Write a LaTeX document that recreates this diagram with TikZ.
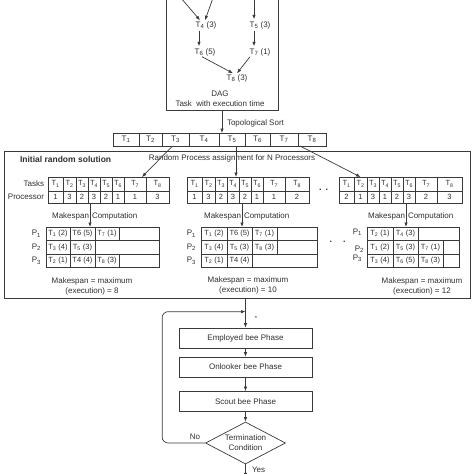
\documentclass[tikz,border=0pt]{standalone}
\usepackage{fontspec}
\setmainfont{Liberation Sans}
\usetikzlibrary{arrows.meta,shapes.geometric,calc}
\definecolor{ln}{HTML}{3A3A3A}
\definecolor{tx}{HTML}{303030}
\newcommand\asgtab[3]{%
  \foreach \a/\b/\v [count=\i] in {#3}{
    \node[cell, minimum width={(\b-\a)*1pt}, minimum height=14pt] (#2t\i) at ({#1+(\a+\b)/2},184) {T\textsubscript{\i}};
    \node[cell, minimum width={(\b-\a)*1pt}, minimum height=12pt] (#2p\i) at ({#1+(\a+\b)/2},197) {\v};
  }}
\newcommand\pc[5]{\node[cell, minimum width={(#3-#2)*1pt}, minimum height=13.5pt] (#1) at ({(#2+#3)/2},#4) {#5};}
\begin{document}
\begin{tikzpicture}[x=1pt,y=-1pt,
  font=\fontsize{8}{10}\selectfont, text=tx,
  arr/.style={draw=ln, line width=0.7pt, -{Latex[length=4.5pt,width=3.5pt]}},
  cell/.style={draw=ln, line width=0.6pt, inner sep=0pt, outer sep=0pt, font=\fontsize{7.5}{9}\selectfont},
  box/.style={draw=ln, line width=0.7pt, minimum width=133pt, minimum height=20pt, inner sep=0pt},
  lbl/.style={inner sep=0pt, outer sep=0pt}
]
\useasboundingbox (0,0) rectangle (474,474);
\clip (0,0) rectangle (474,474);
\fill[white] (0,0) rectangle (474,474);

% ---------- DAG ----------
\node[draw=ln, line width=0.8pt, minimum width=112pt, minimum height=120pt, inner sep=0pt] (dag) at (222,50) {};
\node[lbl] (t4) at (206,25) {T\textsubscript{4} (3)};
\node[lbl] (t5) at (260,25) {T\textsubscript{5} (3)};
\node[lbl] (t6) at (205,52) {T\textsubscript{6} (5)};
\node[lbl] (t7) at (260,52) {T\textsubscript{7} (1)};
\node[lbl] (t8) at (237,78) {T\textsubscript{8} (3)};
\node[lbl] (dagl) at (220,94) {DAG};
\node[lbl] (dagt) at (220,103.5) {Task\ \ with execution time};
\coordinate (in1) at (181,-2);
\coordinate (in2) at (213,-2);
\coordinate (in3) at (254,-2);
\draw[arr] (in1) -- ([xshift=-6pt,yshift=1pt]t4.north);
\draw[arr] (in2) -- ([xshift=-1pt,yshift=1pt]t4.north);
\draw[arr] (in3) -- ([xshift=-6pt,yshift=2pt]t5.north);
\draw[arr] ([xshift=-7pt,yshift=-2pt]t4.south) -- ([xshift=-6pt,yshift=2pt]t6.north);
\draw[arr] ([xshift=-6pt,yshift=-2pt]t5.south) -- ([xshift=-6pt,yshift=2pt]t7.north);
\draw[arr] ([xshift=-3pt,yshift=-1pt]t6.south) -- ([xshift=-4pt,yshift=1pt]t8.north);
\draw[arr] ([xshift=-10pt,yshift=-1pt]t7.south) -- ([xshift=0pt,yshift=1pt]t8.north);

% ---------- topological sort row ----------
\foreach \a/\b [count=\i] in {113/139,139/162,162/189,189/219,219/245,245/270,270/298,298/326}
  \node[cell, font=\fontsize{8}{9}\selectfont, minimum width={(\b-\a)*1pt}, minimum height=13pt] (tr\i) at ({(\a+\b)/2},139.5) {T\textsubscript{\i}};
\draw[arr] (dag.south) -- (dag.south |- tr4.north);
\node[lbl, anchor=west] (topo) at (227,123) {Topological Sort};

% ---------- initial random solution ----------
\node[draw=ln, line width=0.8pt, minimum width=466pt, minimum height=147pt, inner sep=0pt] (outer) at (237,224.5) {};
\node[lbl, anchor=west, font=\bfseries\fontsize{8.5}{10}\selectfont] (irs) at (20,159) {Initial random solution};
\node[lbl] (rpa) at (232,158) {Random Process assignment for N Processors};

\asgtab{48}{l}{0/15/1,15/28/3,28/40/2,40/52/3,52/64/2,64/76/1,76/98/1,98/121/3}
\asgtab{187}{m}{0/15/1,15/28/3,28/40/2,40/52/3,52/64/2,64/76/1,76/98/1,98/122/2}
\asgtab{339}{r}{0/15/2,15/28/1,28/40/3,40/52/1,52/64/2,64/76/3,76/98/2,98/123/3}
\node[lbl, anchor=east] (tasksl) at (44,184) {Tasks};
\node[lbl, anchor=east] (procl) at (44,197) {Processor};
\node[lbl, font=\bfseries\fontsize{9}{9}\selectfont] (dots1) at (323.5,190) {.\hspace{4pt}.};

\coordinate (s3) at ($(tr3.south)+(-3,0)$);
\coordinate (e3) at ($(lt7.north)+(7,0)$);
\draw[arr] (s3) -- (e3);
\coordinate (s5) at ($(tr5.south)+(4,0)$);
\draw[arr] (s5) -- (s5 |- mt4.north);
\coordinate (s8) at ($(tr8.south)+(-12,0)$);
\draw[arr] (s8) -- (rt2.north);

% makespan computation arrows
\coordinate (lm) at ($(lp4.south)+(-4,0)$);
\coordinate (mm) at ($(mp5.south)+(-3,0)$);
\coordinate (rm) at ($(rp6.south)+(-3,0)$);
\node[lbl, anchor=east] (lmk1) at ([xshift=-1pt]lm |- 0,216) {Makespan};
\node[lbl, anchor=west] (lmk2) at ([xshift=2pt]lm |- 0,216) {Computation};
\node[lbl, anchor=east] (mmk1) at ([xshift=-1pt]mm |- 0,216) {Makespan};
\node[lbl, anchor=west] (mmk2) at ([xshift=2pt]mm |- 0,216) {Computation};
\node[lbl, anchor=east] (rmk1) at ([xshift=-1pt]rm |- 0,216) {Makespan};
\node[lbl, anchor=west] (rmk2) at ([xshift=2pt]rm |- 0,216) {Computation};

% left P table
\pc{la1}{46}{70}{233.75}{T\textsubscript{1} (2)}
\pc{la2}{70}{95}{233.75}{T6 (5)}
\pc{la3}{95}{119}{233.75}{T\textsubscript{7} (1)}
\pc{la4}{119}{159}{233.75}{}
\pc{lb1}{46}{70}{247.25}{T\textsubscript{3} (4)}
\pc{lb2}{70}{95}{247.25}{T\textsubscript{5} (3)}
\pc{lb3}{95}{159}{247.25}{}
\pc{lc1}{46}{70}{260.75}{T\textsubscript{2} (1)}
\pc{lc2}{70}{95}{260.75}{T4 (4)}
\pc{lc3}{95}{119}{260.75}{T\textsubscript{8} (3)}
\pc{lc4}{119}{159}{260.75}{}
\node[lbl, anchor=east] (lP1) at (41,233.75) {P\textsubscript{1}};
\node[lbl, anchor=east] (lP2) at (41,247.25) {P\textsubscript{2}};
\node[lbl, anchor=east] (lP3) at (41,260.75) {P\textsubscript{3}};
% middle P table
\pc{ma1}{201}{227}{233.75}{T\textsubscript{1} (2)}
\pc{ma2}{227}{252}{233.75}{T6 (5)}
\pc{ma3}{252}{277}{233.75}{T\textsubscript{7} (1)}
\pc{ma4}{277}{317}{233.75}{}
\pc{mb1}{201}{227}{247.25}{T\textsubscript{3} (4)}
\pc{mb2}{227}{252}{247.25}{T\textsubscript{5} (3)}
\pc{mb3}{252}{277}{247.25}{T\textsubscript{8} (3)}
\pc{mb4}{277}{317}{247.25}{}
\pc{mc1}{201}{227}{260.75}{T\textsubscript{2} (1)}
\pc{mc2}{227}{252}{260.75}{T4 (4)}
\pc{mc3}{252}{317}{260.75}{}
\node[lbl, anchor=east] (mP1) at (196,233.75) {P\textsubscript{1}};
\node[lbl, anchor=east] (mP2) at (196,247.25) {P\textsubscript{2}};
\node[lbl, anchor=east] (mP3) at (196,260.75) {P\textsubscript{3}};
% right P table
\pc{ra1}{367}{393}{233.75}{T\textsubscript{2} (1)}
\pc{ra2}{393}{418}{233.75}{T\textsubscript{4} (3)}
\pc{ra3}{418}{459}{233.75}{}
\pc{rb1}{367}{393}{247.25}{T\textsubscript{1} (2)}
\pc{rb2}{393}{418}{247.25}{T\textsubscript{5} (3)}
\pc{rb3}{418}{443}{247.25}{T\textsubscript{7} (1)}
\pc{rb4}{443}{459}{247.25}{}
\pc{rc1}{367}{393}{260.75}{T\textsubscript{3} (4)}
\pc{rc2}{393}{418}{260.75}{T\textsubscript{6} (5)}
\pc{rc3}{418}{443}{260.75}{T\textsubscript{8} (3)}
\pc{rc4}{443}{459}{260.75}{}
\node[lbl, anchor=east] (rP1) at (362,232) {P\textsubscript{1}};
\node[lbl, anchor=east] (rP2) at (364,249) {P\textsubscript{2}};
\node[lbl, anchor=east] (rP3) at (362,258) {P\textsubscript{3}};

\draw[arr] (lm) -- (lm |- la2.north);
\draw[arr] (mm) -- (mm |- ma1.north);
\draw[arr] (rm) -- (rm |- ra1.north);

\node[lbl, font=\bfseries\fontsize{9}{9}\selectfont] (dots2) at (337.5,242) {.\hspace{11pt}.};

\node[lbl, align=center] (lms) at (92,286) {Makespan = maximum\\(execution) = 8};
\node[lbl, align=center] (mms) at (248,285) {Makespan = maximum\\(execution) = 10};
\node[lbl, align=center] (rms) at (422,286) {Makespan = maximum\\(execution) = 12};

% ---------- ABC loop ----------
\node[box] (emp) at (245.5,338) {Employed bee Phase};
\node[box] (onl) at (245.5,367) {Onlooker bee Phase};
\node[box] (sco) at (245.5,401.5) {Scout bee Phase};
\node[draw=ln, line width=0.7pt, diamond, aspect=1.9, minimum width=80pt, minimum height=42pt, inner sep=0pt, align=center] (term) at (245.5,443) {Termination\\Condition};
\coordinate (top) at (emp.north |- outer.south);
\draw[arr] (top) -- (emp.north);
\draw[arr] (emp) -- (onl);
\draw[arr] (onl) -- (sco);
\draw[arr] (sco) -- (term);
\coordinate (lp) at ($(emp.north)+(0,-16)$);
\draw[arr, rounded corners=6pt] (term.west) -- ++(-43,0) |- (lp);
\node[lbl] (no) at (195,437) {No};
\coordinate (yesend) at ($(term.south)+(0,13)$);
\draw[arr] (term.south) -- (yesend);
\node[lbl, anchor=west] (yes) at (252,470) {Yes};
\node[lbl, font=\fontsize{6}{6}\selectfont] (star) at (256,318) {*};
\end{tikzpicture}
\end{document}
